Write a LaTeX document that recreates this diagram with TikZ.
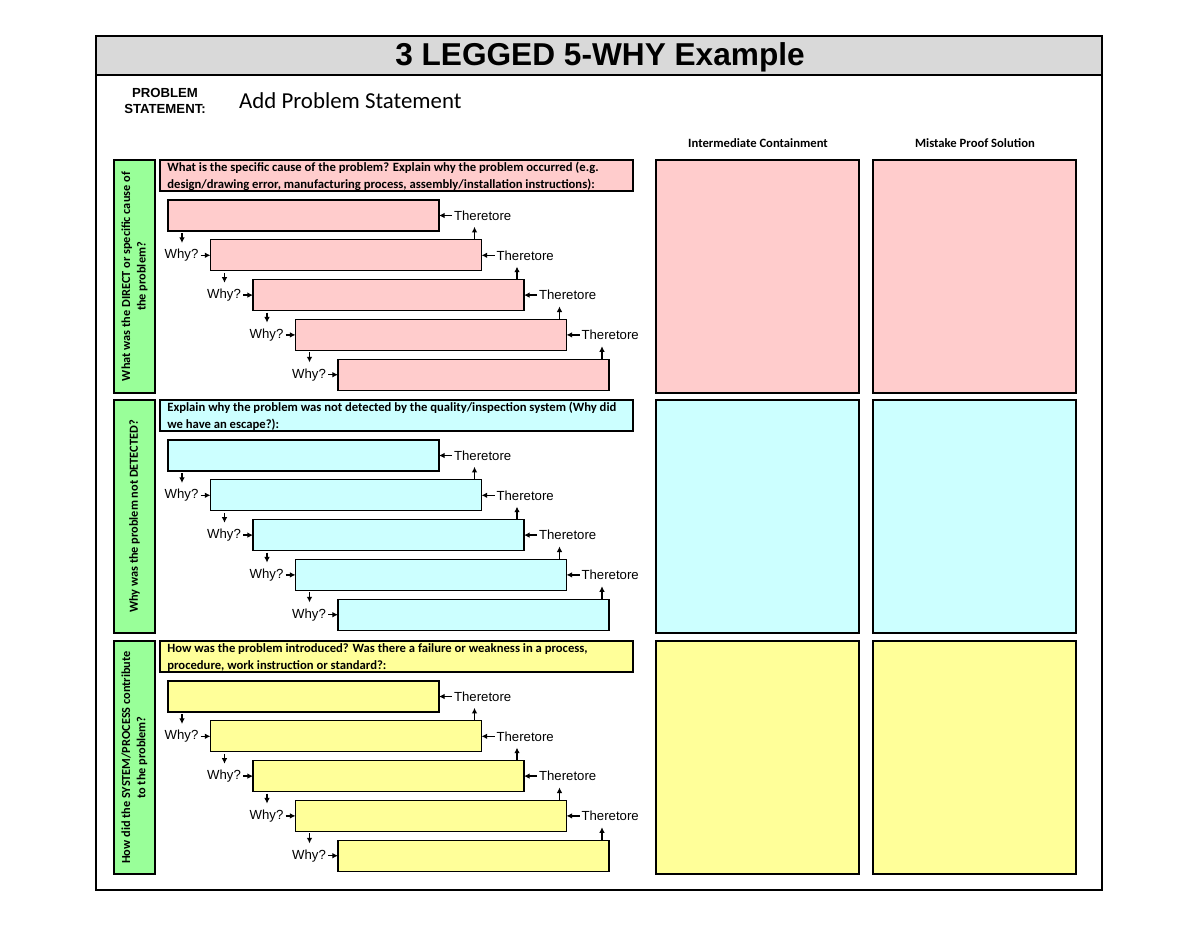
\documentclass[tikz,border=0pt]{standalone}
\usepackage{fontspec}
\setmainfont{Carlito}
\newfontfamily\arial{Liberation Sans}
\usetikzlibrary{arrows.meta}
\def\P{0.02cm}
\definecolor{pinkc}{HTML}{FFCCCC}
\definecolor{cyanc}{HTML}{CCFFFF}
\definecolor{yelc}{HTML}{FFFF99}
\definecolor{greenc}{HTML}{99FF99}
\definecolor{grayc}{HTML}{D9D9D9}
\begin{document}
\begin{tikzpicture}[x=0.02cm,y=-0.02cm,
  box/.style={draw,line width=0.7pt,anchor=north west,inner sep=0,outer sep=0},
  arr/.style={line width=0.8pt,-{Latex[length=3.2pt,width=3.2pt]}},
  lbl/.style={font=\arial\fontsize{7.5}{9}\selectfont,inner sep=1pt},
  qtext/.style={font=\bfseries\fontsize{7.2}{9.6}\selectfont,align=left,anchor=north west,inner sep=0},
  side/.style={font=\bfseries\fontsize{7}{8.7}\selectfont,align=center,rotate=90}]
\useasboundingbox (0,0) rectangle (1200,927);
\node[box,fill=grayc,minimum width=1006*\P,minimum height=39*\P] (title) at (96,36) {};
\node[font=\arial\bfseries\fontsize{18}{20}\selectfont] (tt) at (600,57) {3 LEGGED 5-WHY Example};
\draw[line width=1.2pt] (96,36) rectangle (1102,890);
\node[font=\arial\bfseries\fontsize{7.5}{9.5}\selectfont,align=center] (ps) at (165,101) {PROBLEM\\STATEMENT:};
\node[anchor=west,font=\fontsize{13}{15}\selectfont] (aps) at (233,101) {Add Problem Statement};
\node[font=\bfseries\fontsize{7.2}{9}\selectfont] (h1) at (758,143) {Intermediate Containment};
\node[font=\bfseries\fontsize{7.2}{9}\selectfont] (h2) at (975,143) {Mistake Proof Solution};
\foreach \s/\off/\col/\q/\sd in {
 1/0/pinkc/{What is the specific cause of the problem? Explain why the problem occurred (e.g.\\design/drawing error, manufacturing process, assembly/installation instructions):}/{What was the DIRECT or specific cause of\\the problem?},
 2/240/cyanc/{Explain why the problem was not detected by the quality/inspection system (Why did\\we have an escape?):}/{Why was the problem not DETECTED?},
 3/481/yelc/{How was the problem introduced? Was there a failure or weakness in a process,\\procedure, work instruction or standard?:}/{How did the SYSTEM/PROCESS contribute\\to the problem?}}{
  \node[box,fill=greenc,minimum width=41*\P,minimum height=233*\P] (g\s) at (114,160+\off) {};
  \node[side] (gt\s) at (g\s.center) {\sd};
  \node[box,fill=\col,minimum width=473*\P,minimum height=31*\P] (q\s) at (160,160+\off) {};
  \node[qtext] (qt\s) at (167,162+\off) {\q};
  \node[box,fill=\col,minimum width=203*\P,minimum height=233*\P] (ra\s) at (656,160+\off) {};
  \node[box,fill=\col,minimum width=203*\P,minimum height=233*\P] (rb\s) at (873,160+\off) {};
  \foreach \i in {1,...,5}{
    \node[box,fill=\col,minimum width=271*\P,minimum height=31*\P] (b\s-\i) at ({168+42.5*(\i-1)},{200+\off+39.8*(\i-1)}) {};
  }
  \foreach \i [evaluate=\i as \j using int(\i+1)] in {1,...,4}{
    \node[lbl,anchor=west] (tf\s-\i) at ([xshift=13*\P]b\s-\i.east) {Theretore};
    \draw[arr] (tf\s-\i.west) -- (b\s-\i.east);
    \draw[arr] ([xshift=-7*\P]b\s-\j.north east) -- ++(0,-13);
    \draw[arr] ([xshift=14*\P,yshift=-2*\P]b\s-\i.south west) -- ++(0,10);
    \node[lbl,anchor=east] (w\s-\i) at ([xshift=-10*\P]b\s-\j.west) {Why?};
    \draw[arr] (w\s-\i.east) -- (b\s-\j.west);
  }
}
\end{tikzpicture}
\end{document}
